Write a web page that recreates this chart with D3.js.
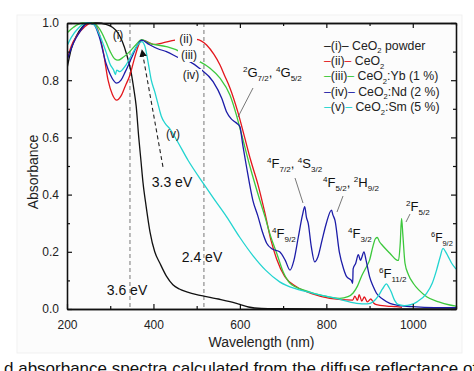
<!DOCTYPE html>
<html>
<head>
<meta charset="utf-8">
<script src="https://cdn.jsdelivr.net/npm/d3@7"></script>
<style>
  body { margin: 0; background: #fff; }
  svg { display: block; font-family: "Liberation Sans", Arial, sans-serif; }
</style>
</head>
<body>
<svg id="chart" width="474" height="371"></svg>
<script>
// absorbance curves, [wavelength nm, absorbance]
const powder = [[200,0.84],[210,0.91],[222,0.955],[235,0.985],[250,1.0],[270,1.0],[290,0.995],[305,0.985],[318,0.965],[328,0.935],[338,0.89],[348,0.83],[355,0.765],[360,0.71],[366,0.6],[371,0.52],[376,0.44],[383,0.36],[392,0.27],[403,0.2],[415,0.16],[430,0.115],[445,0.085],[460,0.07],[477,0.06],[500,0.05],[517,0.045],[550,0.035],[577,0.026],[600,0.016],[620,0.007],[650,0.002],[700,0.001],[800,0],[900,0],[1000,0],[1100,0]]
const ceo2 = [[200,0.87],[210,0.92],[225,0.96],[240,0.985],[255,1.0],[265,0.995],[275,0.96],[285,0.89],[295,0.8],[305,0.75],[315,0.73],[325,0.745],[335,0.78],[346,0.82],[355,0.87],[365,0.92],[373,0.94],[385,0.935],[400,0.925],[420,0.93],[450,0.94],[480,0.945],[500,0.943],[523,0.923],[540,0.89],[554,0.853],[565,0.815],[577,0.773],[595,0.69],[611,0.6],[625,0.52],[642,0.434],[658,0.335],[672,0.24],[685,0.175],[704,0.113],[731,0.078],[770,0.052],[808,0.037],[861,0.031],[866,0.045],[872,0.03],[876,0.05],[882,0.028],[888,0.042],[895,0.025],[903,0.035],[910,0.02],[916,0.015],[940,0.01],[962,0.008],[975,0.006]]
const ceo2Yb = [[200,0.965],[215,0.985],[235,1.0],[260,1.0],[275,0.98],[290,0.935],[300,0.9],[310,0.875],[318,0.87],[330,0.88],[345,0.9],[360,0.925],[373,0.942],[390,0.93],[430,0.917],[461,0.9],[477,0.883],[507,0.865],[531,0.842],[554,0.807],[577,0.748],[592,0.678],[604,0.61],[623,0.5],[646,0.381],[658,0.323],[672,0.25],[685,0.196],[700,0.13],[716,0.09],[750,0.065],[785,0.049],[831,0.037],[850,0.043],[862,0.056],[872,0.08],[881,0.113],[890,0.14],[900,0.171],[908,0.22],[914,0.247],[918,0.25],[923,0.235],[930,0.222],[947,0.195],[962,0.172],[967,0.17],[971,0.23],[974,0.317],[977,0.26],[982,0.16],[990,0.12],[1001,0.09],[1015,0.065],[1032,0.043],[1060,0.025],[1086,0.014],[1100,0.01]]
const ceo2Nd = [[200,0.87],[215,0.93],[230,0.97],[248,1.0],[262,0.995],[275,0.95],[290,0.86],[300,0.82],[315,0.79],[325,0.8],[335,0.83],[350,0.88],[362,0.92],[373,0.94],[390,0.925],[410,0.91],[430,0.9],[461,0.877],[484,0.865],[507,0.841],[538,0.795],[558,0.737],[569,0.69],[580,0.665],[588,0.655],[594,0.648],[600,0.637],[607,0.57],[615,0.5],[630,0.38],[642,0.323],[652,0.27],[662,0.23],[675,0.21],[692,0.2],[705,0.17],[716,0.136],[725,0.17],[735,0.25],[745,0.33],[750,0.358],[754,0.32],[758,0.3],[765,0.22],[773,0.165],[780,0.18],[790,0.24],[800,0.3],[812,0.346],[815,0.33],[820,0.31],[830,0.2],[840,0.14],[847,0.113],[858,0.1],[861,0.09],[862,0.14],[868,0.16],[874,0.19],[879,0.17],[882,0.18],[887,0.2],[892,0.17],[900,0.113],[908,0.08],[916,0.055],[930,0.035],[947,0.02],[970,0.012],[1000,0.008],[1050,0.005],[1100,0.005]]
const ceo2Sm = [[200,0.92],[210,0.95],[225,0.98],[245,1.0],[262,0.995],[275,0.96],[290,0.9],[300,0.855],[308,0.835],[312,0.82],[315,0.835],[322,0.83],[335,0.85],[350,0.89],[362,0.92],[373,0.935],[380,0.92],[388,0.86],[395,0.8],[403,0.76],[410,0.72],[418,0.675],[427,0.649],[438,0.63],[454,0.59],[480,0.52],[515,0.44],[540,0.385],[569,0.323],[600,0.25],[631,0.185],[660,0.135],[692,0.095],[730,0.07],[769,0.055],[823,0.037],[870,0.02],[895,0.018],[908,0.025],[920,0.045],[930,0.07],[939,0.088],[945,0.075],[950,0.06],[958,0.03],[966,0.016],[980,0.012],[995,0.015],[1010,0.025],[1032,0.055],[1045,0.09],[1055,0.136],[1063,0.18],[1070,0.212],[1076,0.2],[1082,0.183],[1090,0.16],[1100,0.14]]

const xMajor = [200, 400, 600, 800, 1000]
const xMinor = [300, 500, 700, 900, 1100]
const yMajor = [0, 0.2, 0.4, 0.6, 0.8, 1.0]
const yMinor = [0.1, 0.3, 0.5, 0.7, 0.9]

// band-gap markers
const gapNm = [345.7, 516.8]
const tangent = [[373.4, 0.906], [422, 0.497]]

const series = [
  {key: '(i)', name: [['CeO'], ['2', 'sub'], [' powder']], color: '#111111', data: powder},
  {key: '(ii)', name: [['CeO'], ['2', 'sub']], color: '#e3161c', data: ceo2},
  {key: '(iii)', name: [['CeO'], ['2', 'sub'], [':Yb (1 %)']], color: '#3cc83c', data: ceo2Yb},
  {key: '(iv)', name: [['CeO'], ['2', 'sub'], [':Nd (2 %)']], color: '#1c1ca8', data: ceo2Nd},
  {key: '(v)', name: [['CeO'], ['2', 'sub'], [':Sm (5 %)']], color: '#22d4d0', data: ceo2Sm}
]

const svg = d3.select('#chart')

// faint page background of the figure
svg.append('rect').attr('x', 17).attr('y', 15).attr('width', 445).attr('height', 338)
  .attr('fill', '#fcfcfc').attr('stroke', '#f1f1f1')

const x = d3.scaleLinear().domain([200, 1100]).range([67, 456])
const y = d3.scaleLinear().domain([0, 1]).range([309, 23])

// rich text: parts are [text, 'sup'|'sub'|undefined]
function rich (sel, parts, size) {
  let off = 0
  parts.forEach(p => {
    let t = sel.append('tspan').text(p[0])
    let target = p[1] === 'sup' ? -0.42 * size : p[1] === 'sub' ? 0.3 * size : 0
    if (p[1]) t.attr('font-size', size * 0.62)
    t.attr('dy', target - off)
    off = target
  })
  return sel
}

// dashed verticals
svg.selectAll('.gap').data(gapNm).enter().append('line')
  .attr('x1', d => x(d)).attr('x2', d => x(d))
  .attr('y1', y(1)).attr('y2', y(0))
  .attr('stroke', '#777').attr('stroke-width', 1).attr('stroke-dasharray', '4,3')

// clip
svg.append('clipPath').attr('id', 'plot').append('rect')
  .attr('x', x(200)).attr('y', y(1) - 1).attr('width', x(1100) - x(200)).attr('height', y(0) - y(1) + 1)

let line = d3.line().x(d => x(d[0])).y(d => y(d[1])).curve(d3.curveMonotoneX)

let plot = svg.append('g').attr('clip-path', 'url(#plot)')
plot.selectAll('.series').data(series).enter().append('path')
  .attr('class', 'series')
  .attr('fill', 'none')
  .attr('stroke', d => d.color)
  .attr('stroke-width', 1.3)
  .attr('d', d => line(d.data))

// tangent with arrow
svg.append('defs').append('marker')
  .attr('id', 'arr').attr('viewBox', '0 0 10 10').attr('refX', 9).attr('refY', 5)
  .attr('markerWidth', 7).attr('markerHeight', 7).attr('orient', 'auto-start-reverse')
  .append('path').attr('d', 'M0,0 L10,5 L0,10 z').attr('fill', '#111')
svg.append('line')
  .attr('x1', x(tangent[1][0])).attr('y1', y(tangent[1][1]))
  .attr('x2', x(tangent[0][0])).attr('y2', y(tangent[0][1]))
  .attr('stroke', '#222').attr('stroke-width', 1.1).attr('stroke-dasharray', '4,3')
  .attr('marker-end', 'url(#arr)')

// axes, ticks inward
function ax (gen, tr, vals, size, fmt) {
  let a = gen.tickValues(vals).tickSizeInner(size).tickSizeOuter(0).tickPadding(4)
  a.tickFormat(fmt || '')
  let g = svg.append('g').attr('transform', tr).call(a)
  g.select('.domain').attr('stroke', '#111').attr('stroke-width', 1.3)
  g.selectAll('.tick line').attr('stroke', '#111').attr('stroke-width', 1.2)
  g.selectAll('text').attr('font-size', 12).attr('fill', '#222').attr('font-family', 'Liberation Sans, Arial')
  return g
}
let xb = ax(d3.axisBottom(x), `translate(0,${y(0)})`, xMajor, -5, d3.format('d'))
xb.selectAll('text').attr('dy', '1.3em')
ax(d3.axisBottom(x), `translate(0,${y(0)})`, xMinor, -3)
ax(d3.axisTop(x), `translate(0,${y(1)})`, xMajor, -5)
ax(d3.axisTop(x), `translate(0,${y(1)})`, xMinor, -3)
let yl = ax(d3.axisLeft(y), `translate(${x(200)},0)`, yMajor, -5, d3.format('.1f'))
yl.selectAll('text').attr('x', -8)
ax(d3.axisLeft(y), `translate(${x(200)},0)`, yMinor, -3)
ax(d3.axisRight(y), `translate(${x(1100)},0)`, yMajor, -5)
ax(d3.axisRight(y), `translate(${x(1100)},0)`, yMinor, -3)

// axis titles
svg.append('text').attr('x', x(650)).attr('y', 347).attr('text-anchor', 'middle')
  .attr('font-size', 14).attr('fill', '#222').text('Wavelength (nm)')
svg.append('text').attr('transform', 'translate(38,172) rotate(-90)').attr('text-anchor', 'middle')
  .attr('font-size', 14).attr('fill', '#222').text('Absorbance')

// curve labels
const curveLabels = [['(i)', 118, 39], ['(ii)', 186, 43], ['(iii)', 189, 59], ['(iv)', 191, 79], ['(v)', 173, 138]]
curveLabels.forEach(c => {
  if (c[0] !== '(i)' && c[0] !== '(v)') {
    svg.append('rect').attr('x', c[1] - 11).attr('y', c[2] - 10).attr('width', 22).attr('height', 13).attr('fill', '#fcfcfc')
  }
  svg.append('text').attr('x', c[1]).attr('y', c[2]).attr('text-anchor', 'middle')
    .attr('font-size', 12).attr('fill', '#222').text(c[0])
})

// eV labels
const evLabels = [['3.3 eV', 172, 187], ['2.4 eV', 202, 262], ['3.6 eV', 127, 295]]
evLabels.forEach(c => {
  svg.append('text').attr('x', c[1]).attr('y', c[2]).attr('text-anchor', 'middle')
    .attr('font-size', 14).attr('fill', '#111').text(c[0])
})

// transition labels
const trans = [
  {x: 243, y: 77, parts: [['2', 'sup'], ['G'], ['7/2', 'sub'], [', '], ['4', 'sup'], ['G'], ['5/2', 'sub']]},
  {x: 267, y: 168, parts: [['4', 'sup'], ['F'], ['7/2', 'sub'], [', '], ['4', 'sup'], ['S'], ['3/2', 'sub']]},
  {x: 323, y: 187, parts: [['4', 'sup'], ['F'], ['5/2', 'sub'], [', '], ['2', 'sup'], ['H'], ['9/2', 'sub']]},
  {x: 272, y: 238, parts: [['4', 'sup'], ['F'], ['9/2', 'sub']]},
  {x: 348, y: 238, parts: [['4', 'sup'], ['F'], ['3/2', 'sub']]},
  {x: 406, y: 211, parts: [['2', 'sup'], ['F'], ['5/2', 'sub']]},
  {x: 431, y: 242, parts: [['6', 'sup'], ['F'], ['9/2', 'sub']], size: 12},
  {x: 379, y: 278, parts: [['6', 'sup'], ['F'], ['11/2', 'sub']]}
]
trans.forEach(t => {
  let fs = t.size || 13
  rich(svg.append('text').attr('x', t.x).attr('y', t.y).attr('font-size', fs).attr('fill', '#111'), t.parts, fs)
})
const leaders = [[253, 88, 238, 117], [295, 178, 303, 203], [343, 196, 337, 212], [410, 214, 406, 222]]
svg.selectAll('.leader').data(leaders).enter().append('line')
  .attr('x1', d => d[0]).attr('y1', d => d[1]).attr('x2', d => d[2]).attr('y2', d => d[3])
  .attr('stroke', '#555').attr('stroke-width', 0.8)

// legend
let leg = svg.append('g')
series.forEach((s, i) => {
  let t = leg.append('text').attr('x', 324).attr('y', 49.5 + i * 15.4).attr('font-size', 12.3).attr('fill', '#222')
  t.append('tspan').attr('fill', s.color).text('–')
  t.append('tspan').text(s.key)
  t.append('tspan').attr('fill', s.color).text('– ')
  rich(t, s.name, 12.3)
})

// cut-off caption below the figure
svg.append('text').attr('x', 4).attr('y', 374).attr('font-size', 17).attr('fill', '#111')
  .text('d absorbance spectra calculated from the diffuse reflectance of the')
</script>
</body>
</html>
